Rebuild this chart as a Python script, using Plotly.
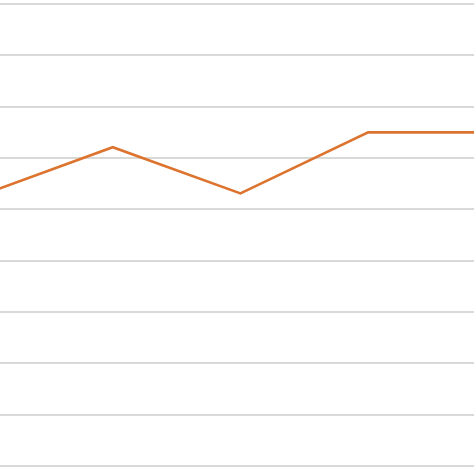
import plotly.graph_objects as go

# pontos da serie (o primeiro e o ultimo ficam cortados fora da area visivel)
categorias = [0, 1, 2, 3, 4]
valores = [53.0, 62.1, 53.1, 65.0, 65.0]
grade = [0, 10, 20, 30, 40, 50, 60, 70, 80, 90]

fig = go.Figure()

fig.add_trace(go.Scatter(
    x=categorias,
    y=valores,
    mode='lines',
    line=dict(color='#DC742F', width=2.6),
    showlegend=False
))

fig.update_layout(
    width=474,
    height=474,
    margin=dict(l=0, r=0, t=0, b=0),
    paper_bgcolor='white',
    plot_bgcolor='white',

    xaxis=dict(
        range=[0.117, 3.829],
        showgrid=False,
        zeroline=False,
        showticklabels=False,
        ticks='',
    ),

    yaxis=dict(
        range=[-1.56, 90.78],
        tickmode='array',
        tickvals=grade,
        showgrid=True,
        gridcolor='#d9d9d9',
        gridwidth=1.6,
        zeroline=False,
        showticklabels=False,
        ticks='',
    ),
)

# tira a margem padrao do body para o grafico encostar no canto
fig.write_html(
    "out.html",
    config={'displayModeBar': False},
    post_script="document.body.style.margin='0';"
)
